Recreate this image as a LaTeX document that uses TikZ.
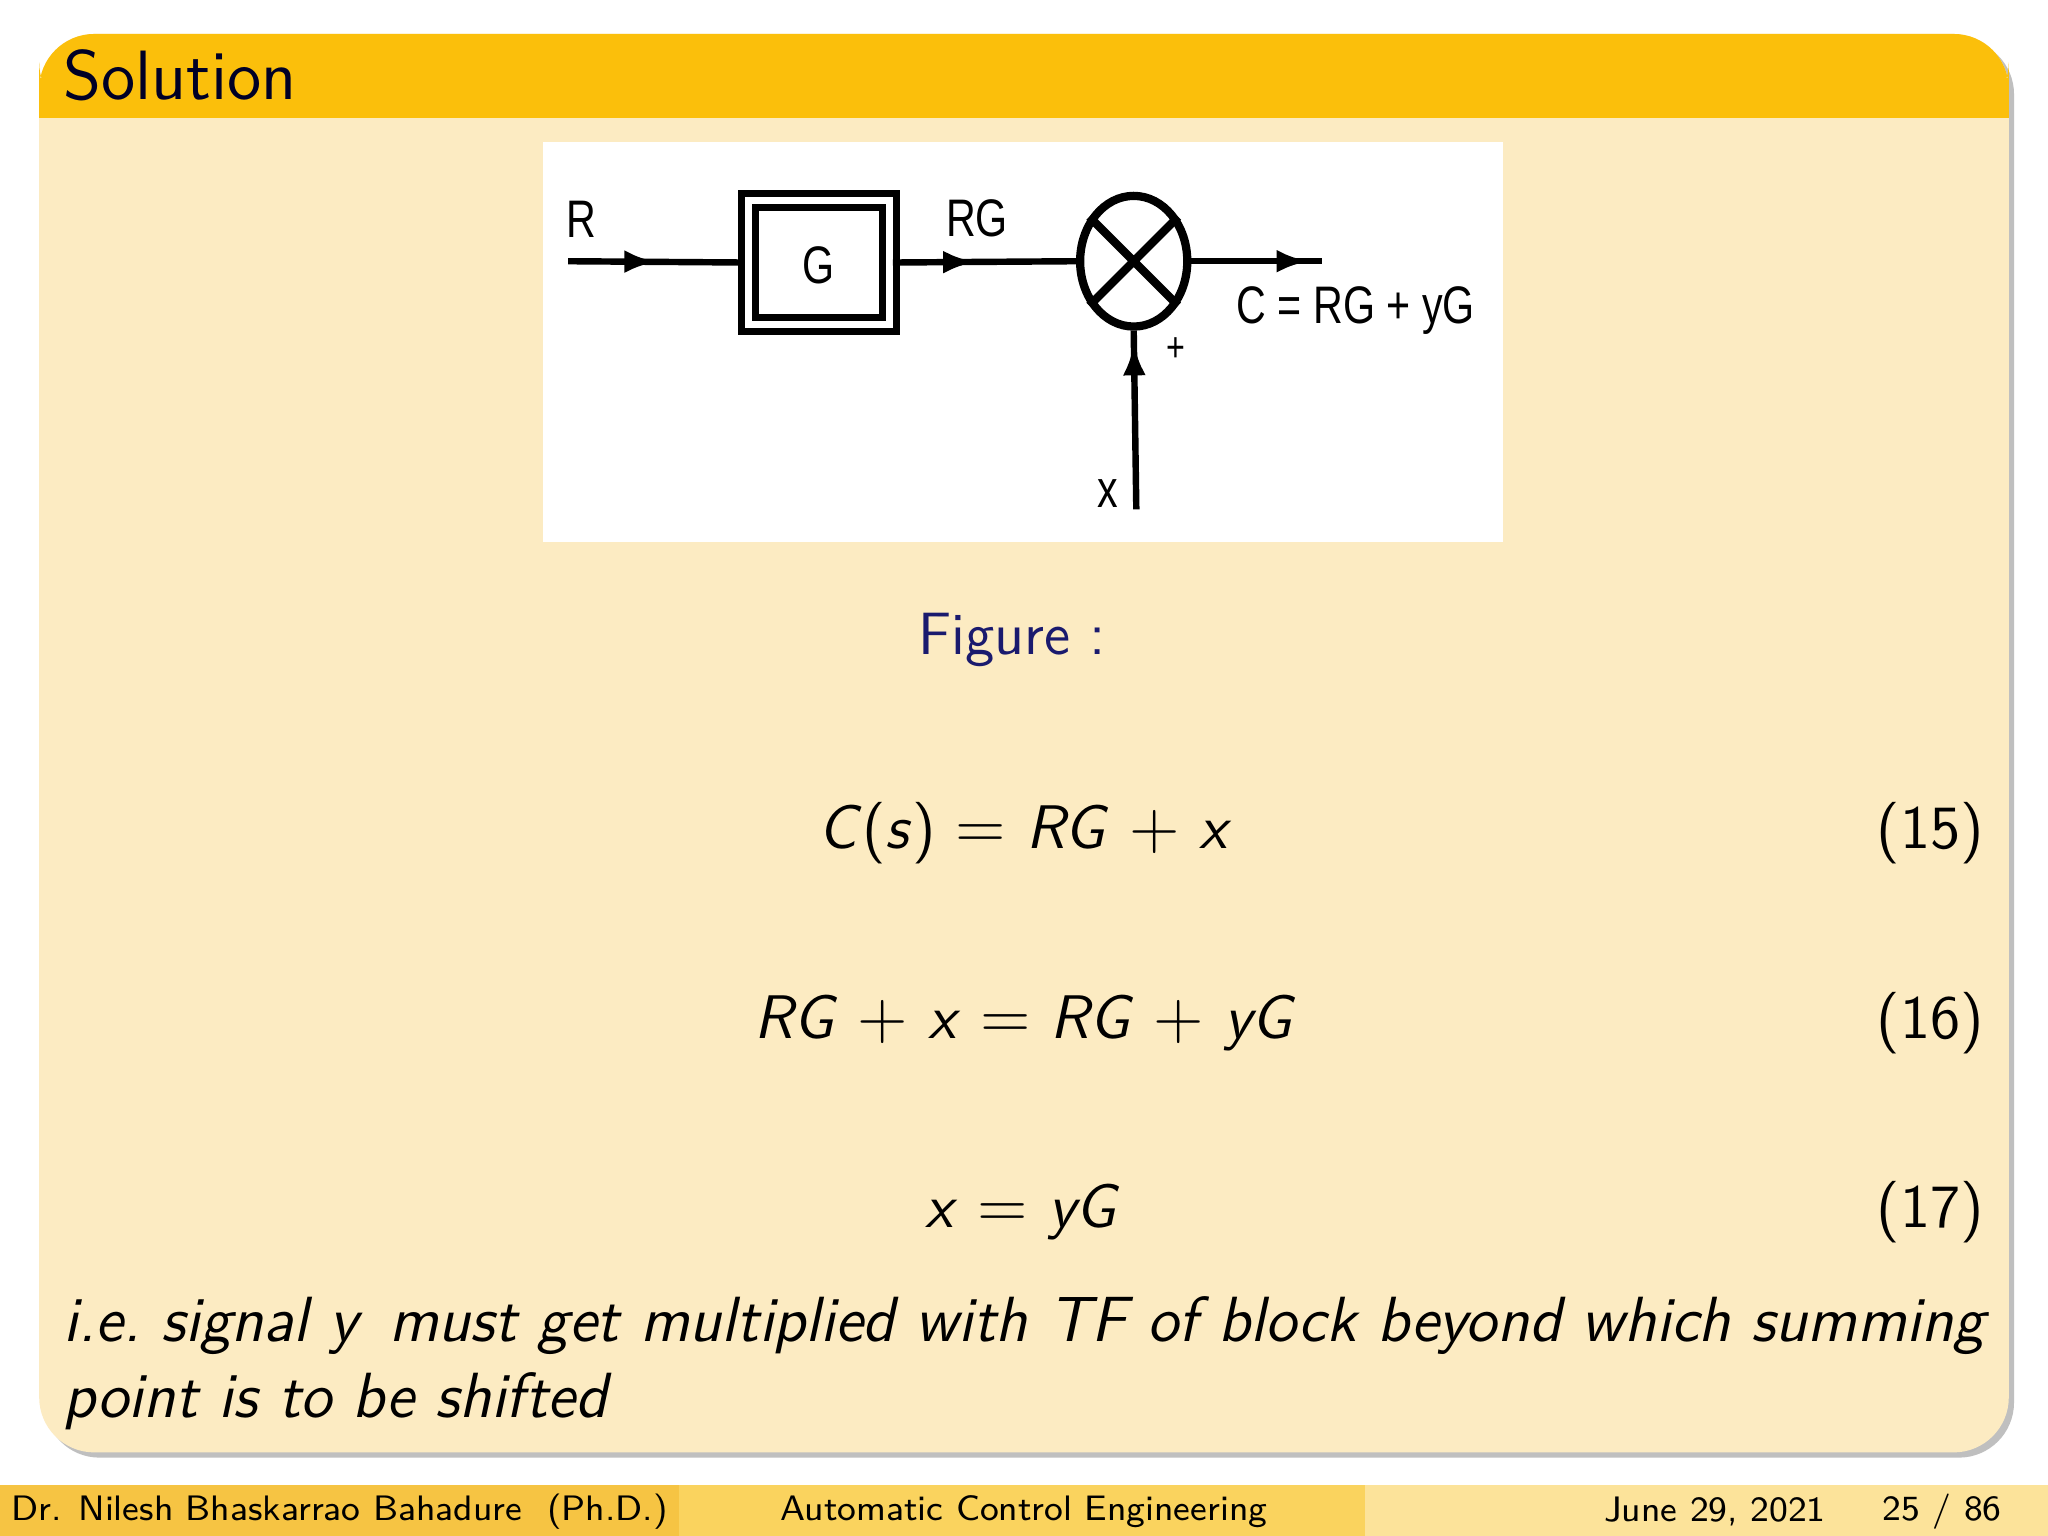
\documentclass[tikz,border=0pt]{standalone}
\usepackage{fontspec}
\newfontfamily\dg{Liberation Sans}
\usetikzlibrary{arrows.meta,decorations.markings,shapes.geometric}
\definecolor{hdr}{HTML}{FBBF0B}
\definecolor{body}{HTML}{FCEBC2}
\definecolor{fa}{HTML}{F6C443}
\definecolor{fb}{HTML}{FAD35E}
\definecolor{fc}{HTML}{FCE39A}
\definecolor{tblue}{HTML}{1A1A6E}
\tikzset{px/.style={x=0.01cm,y=-0.01cm},
 sig/.style={line width=1.4pt,postaction={decorate},decoration={markings,mark=at position #1 with {\arrow{Latex[length=7pt,width=5pt]}}}},
 lbl/.style={font=\dg\fontsize{11.5}{11.5}\selectfont,inner sep=0pt,xscale=0.78},
 eq/.style={font=\sffamily\fontsize{13.4}{13.4}\selectfont,inner sep=0pt}}
\begin{document}
\begin{tikzpicture}[px]
\useasboundingbox (0,0) rectangle (1568,1176);
\fill[white] (0,0) rectangle (1568,1176);
\fill[black!25] (34,30) [rounded corners=12pt] rectangle (1542,1116);
\fill[body,rounded corners=12pt] (30,26) rectangle (1538,1112);
\fill[hdr,rounded corners=12pt] (30,26) rectangle (1538,90);
\fill[hdr] (30,60) rectangle (1538,90);
\node[anchor=west,font=\sffamily\fontsize{15.2}{15.2}\selectfont,text=black!85!blue,inner sep=0pt] (title) at (48,58) {Solution};
% image
\fill[white] (416,109) rectangle (1151,415);
\coordinate (r0) at (435,200);
\node[draw,line width=1.5pt,minimum width=1.08cm,minimum height=0.95cm,double=white,double distance=1.5pt] (G) at (627,201) {};
\node[lbl] at (627,203) {G};
\node[draw,line width=1.8pt,ellipse,minimum width=0.82cm,minimum height=1.0cm,inner sep=0pt] (S) at (868,200) {};
\draw[line width=1.8pt] (S.45)--(S.225) (S.135)--(S.315);
\coordinate (out) at (1012,200);
\coordinate (xin) at (870,390);
\draw[sig=0.5] (r0) -- (G.west);
\draw[sig=0.45] (G.east) -- (S.west);
\draw[sig=0.9] (S.east) -- (out);
\draw[sig=0.93] (xin) -- (S.south);
\node[lbl] (rl) at (445,168) {R};
\node[lbl] (rgl) at (748,167) {RG};
\node[lbl] (cl) at (1038,238) {C = RG + yG};
\node[lbl,font=\dg\fontsize{9}{9}\selectfont] (pl) at (900,268) {+};
\node[lbl] (xl) at (848,378) {x};
\node[font=\sffamily\fontsize{13}{13}\selectfont,text=tblue] (fig) at (775,490) {Figure :};
\node[eq] (e1) at (785,638) {\textit{C}(\textit{s}) $=$ \textit{RG} $+$ \textit{x}};
\node[eq] (e2) at (785,783) {\textit{RG} $+$ \textit{x} $=$ \textit{RG} $+$ \textit{yG}};
\node[eq] (e3) at (783,928) {\textit{x} $=$ \textit{yG}};
\node[eq] (n1) at (1478,638) {(15)};
\node[eq] (n2) at (1478,783) {(16)};
\node[eq] (n3) at (1478,928) {(17)};
\node[anchor=west,eq,font=\sffamily\itshape\fontsize{13.9}{13.9}\selectfont] (t1) at (48,1015) {i.e.\ signal y\, must get multiplied with TF of block beyond which summing};
\node[anchor=west,eq,font=\sffamily\itshape\fontsize{13.9}{13.9}\selectfont] (t2) at (48,1073) {point is to be shifted};
% footer
\fill[fa] (0,1137) rectangle (520,1176);
\fill[fb] (520,1137) rectangle (1045,1176);
\fill[fc] (1045,1137) rectangle (1568,1176);
\begin{scope}[every node/.style={font=\sffamily\fontsize{7.7}{7.7}\selectfont,inner sep=0pt}]
\node (f1) at (260,1157) {Dr. Nilesh Bhaskarrao Bahadure\ \ (Ph.D.)};
\node (f2) at (784,1157) {Automatic Control Engineering};
\node (f3) at (1313,1157) {June 29, 2021};
\node (f4) at (1487,1157) {25 / 86};
\end{scope}
\end{tikzpicture}
\end{document}
